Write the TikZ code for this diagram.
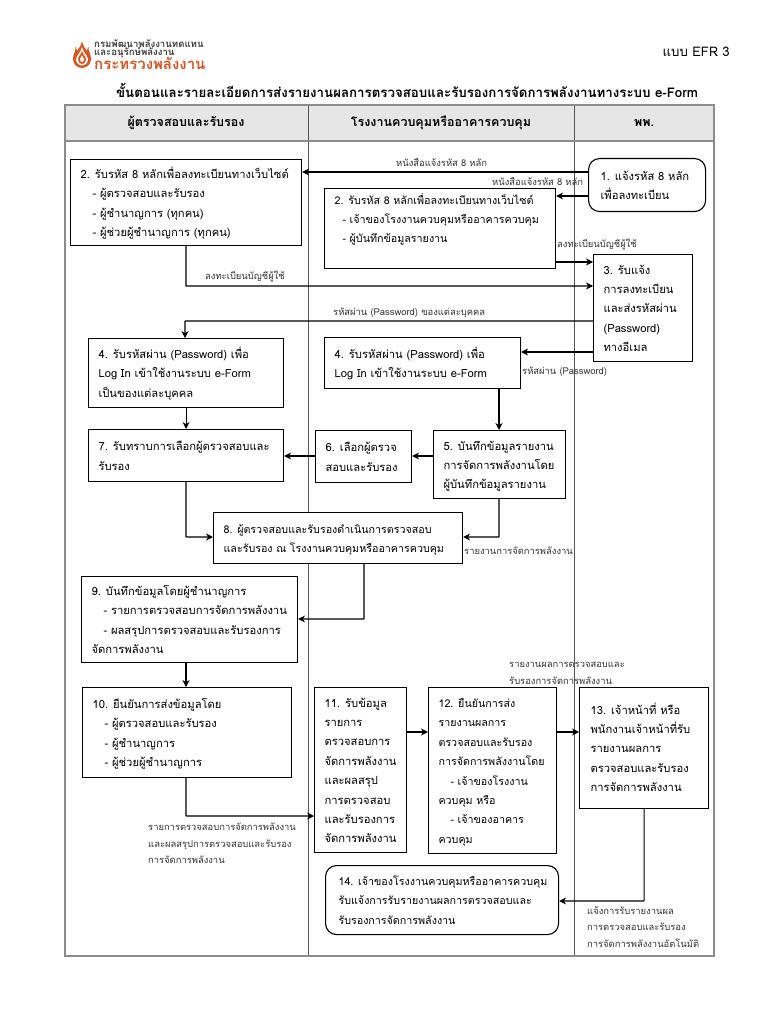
\documentclass[tikz,border=0pt]{standalone}
\usepackage{fontspec}
\usetikzlibrary{arrows.meta}
\setmainfont[Script=Thai]{Loma}
\definecolor{hdr}{HTML}{E6E6E6}
\definecolor{frame}{HTML}{8C8C8C}
\definecolor{inner}{HTML}{555555}
\definecolor{logoO}{HTML}{D9541E}
\newcommand{\boxfont}{\fontsize{11.2}{19.4}\selectfont}
\newcommand{\lblfont}{\fontsize{9.4}{16.5}\selectfont}
\tikzset{
  x=1pt,y=-1pt,
  bx/.style={draw=black,line width=1.1pt,fill=white,inner xsep=0pt,inner ysep=0pt,align=left,font=\boxfont,anchor=north west},
  rbx/.style={bx,rounded corners=11pt},
  tight/.style={font=\fontsize{10.7}{19.4}\selectfont},
  lbl/.style={inner sep=0pt,font=\lblfont,text=black!80,align=left,anchor=west},
  hd/.style={inner sep=0pt,font=\fontsize{12.5}{15}\selectfont\bfseries},
  arr/.style={-{Stealth[length=7pt,width=7pt]},line width=1.1pt,rounded corners=0.5pt},
  heavy/.style={line width=1.6pt},
  grid/.style={draw=frame,line width=1.2pt},
  sep/.style={draw=inner,line width=0.7pt},
}
% name, x1,y1,x2,y2, style, left padding, text
\newcommand{\bxat}[8]{%
  \pgfmathsetlengthmacro{\myw}{#4-#2}\pgfmathsetlengthmacro{\myh}{#5-#3}%
  \pgfmathsetlengthmacro{\myt}{#4-#2-#7}%
  \node[#6,minimum width=\myw,minimum height=\myh] (#1) at (#2,#3) {\hspace*{#7pt}\begin{minipage}{\myt}\vspace*{2pt}\begin{tabular}{@{}l@{}}#8\end{tabular}\end{minipage}};}
\begin{document}
\begin{tikzpicture}
\useasboundingbox (0,0) rectangle (768,1024);
\fill[white] (0,0) rectangle (768,1024);
% table
\fill[hdr] (65,105) rectangle (714,141);
\draw[sep] (308,105) -- (308,956);
\draw[sep] (574,105) -- (574,956);
\draw[grid] (65,141) -- (714,141);
\draw[grid] (65,105) rectangle (714,956);
% logo
\fill[logoO] (82,41) .. controls (81,47) and (78,49) .. (77,51) .. controls (77,49) and (76,48) .. (75.5,47) .. controls (76,51) and (73,54) .. (73,59) .. controls (73,64) and (77,68) .. (82,68) .. controls (87,68) and (91,64) .. (91,59) .. controls (91,54) and (88,51) .. (88.5,47) .. controls (88,48) and (87,49) .. (87,51) .. controls (86,49) and (83,47) .. (82,41) -- cycle;
\fill[white] (82,47) .. controls (81,52) and (77,55) .. (76,59) .. controls (76,63) and (79,65.5) .. (82,65.5) .. controls (85,65.5) and (88,63) .. (88,59) .. controls (87,55) and (83,52) .. (82,47) -- cycle;
\fill[logoO] (82,50) .. controls (82,54) and (78,56) .. (78,59.5) .. controls (78,62) and (80,64) .. (82,64) .. controls (84,64) and (86,62) .. (86,59.5) .. controls (86,56) and (82,54) .. (82,50) -- cycle;
\fill[white] (82,55) .. controls (81.5,57) and (80,58) .. (80,59.5) .. controls (80,61) and (81,62) .. (82,62) .. controls (83,62) and (84,61) .. (84,59.5) .. controls (84,58) and (82.5,57) .. (82,55) -- cycle;
\node[inner sep=0pt,anchor=west,font=\fontsize{9.6}{10}\selectfont\bfseries,text=black!75] (l1) at (94,44) {กรมพัฒนาพลังงานทดแทน};
\node[inner sep=0pt,anchor=west,font=\fontsize{9.6}{10}\selectfont\bfseries,text=black!75] (l2) at (94,52.5) {และอนุรักษ์พลังงาน};
\node[inner sep=0pt,anchor=west,font=\fontsize{15}{16}\selectfont\bfseries,text=logoO] (l3) at (94,63) {กระทรวงพลังงาน};
% headings
\node[inner sep=0pt,anchor=east,font=\fontsize{13.2}{15}\selectfont] (efr) at (730,52) {แบบ EFR 3};
\node[hd,font=\fontsize{13.3}{15}\selectfont\bfseries] (title) at (407,90) {ขั้นตอนและรายละเอียดการส่งรายงานผลการตรวจสอบและรับรองการจัดการพลังงานทางระบบ e-Form};
\node[hd] (h1) at (186,123) {ผู้ตรวจสอบและรับรอง};
\node[hd] (h2) at (441,123) {โรงงานควบคุมหรืออาคารควบคุม};
\node[hd] (h3) at (644,123) {พพ.};
% boxes
\bxat{b2a}{70}{159}{301}{245}{bx}{10}{2. รับรหัส 8 หลักเพื่อลงทะเบียนทางเว็บไซต์\\\hspace*{12pt}- ผู้ตรวจสอบและรับรอง\\\hspace*{12pt}- ผู้ชำนาญการ (ทุกคน)\\\hspace*{12pt}- ผู้ช่วยผู้ชำนาญการ (ทุกคน)}
\bxat{b1}{588}{158}{705}{211}{rbx}{12}{1. แจ้งรหัส 8 หลัก\\เพื่อลงทะเบียน}
\bxat{b2b}{324}{188}{555}{267}{bx,tight}{10}{2. รับรหัส 8 หลักเพื่อลงทะเบียนทางเว็บไซต์\\\hspace*{8pt}- เจ้าของโรงงานควบคุมหรืออาคารควบคุม\\\hspace*{8pt}- ผู้บันทึกข้อมูลรายงาน\\\mbox{}}
\bxat{b3}{593}{254}{692}{361}{bx}{10}{3. รับแจ้ง\\การลงทะเบียน\\และส่งรหัสผ่าน\\(Password)\\ทางอีเมล}
\bxat{b4a}{88}{338}{283}{407}{bx}{10}{4. รับรหัสผ่าน (Password) เพื่อ\\Log In เข้าใช้งานระบบ e-Form\\เป็นของแต่ละบุคคล}
\bxat{b4b}{324}{337}{520}{388}{bx}{10}{4. รับรหัสผ่าน (Password) เพื่อ\\Log In เข้าใช้งานระบบ e-Form}
\bxat{b7}{88}{429}{283}{481}{bx}{10}{7. รับทราบการเลือกผู้ตรวจสอบและ\\รับรอง}
\bxat{b6}{315}{430}{411}{482}{bx}{10}{6. เลือกผู้ตรวจ\\สอบและรับรอง}
\bxat{b5}{433}{430}{565}{498}{bx}{10}{5. บันทึกข้อมูลรายงาน\\การจัดการพลังงานโดย\\ผู้บันทึกข้อมูลรายงาน}
\bxat{b8}{213}{512}{462}{563}{bx,tight}{10}{8. ผู้ตรวจสอบและรับรองดำเนินการตรวจสอบ\\และรับรอง ณ โรงงานควบคุมหรืออาคารควบคุม}
\bxat{b9}{81}{576}{297}{662}{bx}{10}{9. บันทึกข้อมูลโดยผู้ชำนาญการ\\\hspace*{12pt}- รายการตรวจสอบการจัดการพลังงาน\\\hspace*{12pt}- ผลสรุปการตรวจสอบและรับรองการ\\จัดการพลังงาน}
\bxat{b10}{82}{687}{291}{777}{bx}{10}{10. ยืนยันการส่งข้อมูลโดย\\\hspace*{12pt}- ผู้ตรวจสอบและรับรอง\\\hspace*{12pt}- ผู้ชำนาญการ\\\hspace*{12pt}- ผู้ช่วยผู้ชำนาญการ}
\bxat{b11}{314}{687}{406}{852}{bx}{10}{11. รับข้อมูล\\รายการ\\ตรวจสอบการ\\จัดการพลังงาน\\และผลสรุป\\การตรวจสอบ\\และรับรองการ\\จัดการพลังงาน}
\bxat{b12}{428}{687}{556}{853}{bx,tight}{10}{12. ยืนยันการส่ง\\รายงานผลการ\\ตรวจสอบและรับรอง\\การจัดการพลังงานโดย\\\hspace*{12pt}- เจ้าของโรงงาน\\ควบคุม หรือ\\\hspace*{12pt}- เจ้าของอาคาร\\ควบคุม}
\bxat{b13}{579}{687}{708}{808}{bx}{11}{13. เจ้าหน้าที่ หรือ\\พนักงานเจ้าหน้าที่รับ\\รายงานผลการ\\ตรวจสอบและรับรอง\\การจัดการพลังงาน}
\bxat{b14}{325}{865}{558}{934}{rbx,tight}{13}{14. เจ้าของโรงงานควบคุมหรืออาคารควบคุม\\รับแจ้งการรับรายงานผลการตรวจสอบและ\\รับรองการจัดการพลังงาน}
% connectors
\draw[arr,heavy] (b1.west |- 0,172) -- (b2a.east |- 0,172);
\draw[arr] (b1.west |- 0,196) -- (b2b.east |- 0,196);
\draw[arr] (b2b.east |- 0,262) -- (b3.west |- 0,262);
\draw[arr] (186,245) -- (186,286) -- (b3.west |- 0,286);
\draw[arr] (b3.west |- 0,321) -- (185,321) -- (185,338);
\draw[arr] (b3.west |- 0,352) -- (b4b.east |- 0,352);
\draw[arr] (b4a.south) -- (b7.north);
\draw[arr] (499,388) -- (499,430);
\draw[arr] (b5.west |- 0,456) -- (b6.east |- 0,456);
\draw[arr] (b6.west |- 0,456) -- (b7.east |- 0,456);
\draw[arr] (186,481) -- (186,537) -- (b8.west |- 0,537);
\draw[arr] (499,498) -- (499,537) -- (b8.east |- 0,537);
\draw[arr] (364,563) -- (364,619) -- (b9.east |- 0,619);
\draw[arr] (186,662) -- (186,687);
\draw[arr] (186,777) -- (186,816) -- (b11.west |- 0,816);
\draw[arr] (b11.east |- 0,732) -- (b12.west |- 0,732);
\draw[arr] (b12.east |- 0,732) -- (b13.west |- 0,732);
\draw[arr] (b13.south) -- (b13.south |- 0,901) -- (b14.east |- 0,901);
% labels
\node[lbl] (t1) at (396,163) {หนังสือแจ้งรหัส 8 หลัก};
\node[lbl] (t2) at (492,182) {หนังสือแจ้งรหัส 8 หลัก};
\node[lbl] (t3) at (557,245) {ลงทะเบียนบัญชีผู้ใช้};
\node[lbl] (t4) at (205,277) {ลงทะเบียนบัญชีผู้ใช้};
\node[lbl] (t5) at (333,313) {รหัสผ่าน (Password) ของแต่ละบุคคล};
\node[lbl] (t6) at (522,372) {รหัสผ่าน (Password)};
\node[lbl] (t7) at (464,551) {รายงานการจัดการพลังงาน};
\node[lbl] (t8) at (509,673) {รายงานผลการตรวจสอบและ\\รับรองการจัดการพลังงาน};
\node[lbl] (t9) at (148,843.5) {รายการตรวจสอบการจัดการพลังงาน\\และผลสรุปการตรวจสอบและรับรอง\\การจัดการพลังงาน};
\node[lbl] (t10) at (587,927) {แจ้งการรับรายงานผล\\การตรวจสอบและรับรอง\\การจัดการพลังงานอัตโนมัติ};
\end{tikzpicture}
\end{document}
